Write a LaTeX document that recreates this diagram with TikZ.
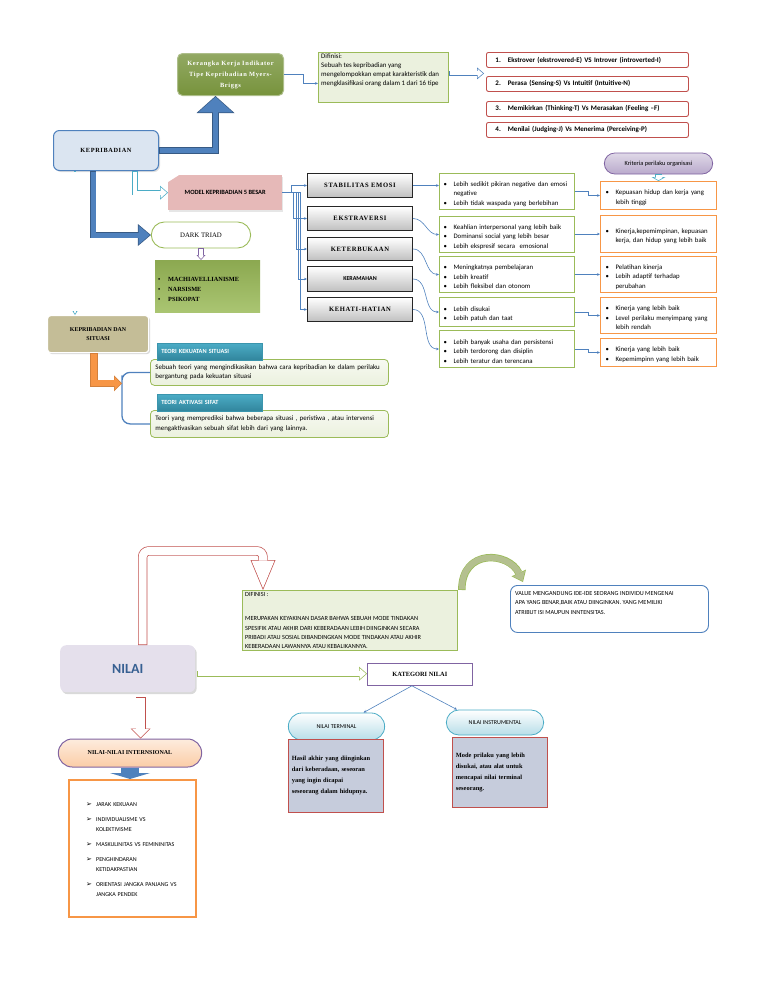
\documentclass[tikz,border=0pt]{standalone}
\usepackage{fontspec}
\setmainfont{Carlito}
\newfontfamily\serifface{Liberation Serif}
\newfontfamily\wideface[LetterSpace=10]{Liberation Serif}
\newfontfamily\symface{DejaVu Sans}
\usetikzlibrary{arrows.meta,positioning,shapes.misc,shadows,calc}

\definecolor{mossgreen}{HTML}{77933C}
\definecolor{leafgreen}{HTML}{9BBB59}
\definecolor{palegreen}{HTML}{EBF1DE}
\definecolor{brickred}{HTML}{C0504D}
\definecolor{steelblue}{HTML}{4F81BD}
\definecolor{iceblue}{HTML}{DBE5F1}
\definecolor{rosepink}{HTML}{E6B9B8}
\definecolor{tangerine}{HTML}{F79646}
\definecolor{khakitan}{HTML}{C4BD97}
\definecolor{deepteal}{HTML}{31859C}
\definecolor{aquablue}{HTML}{4BACC6}
\definecolor{lilac}{HTML}{8064A2}
\definecolor{lavender}{HTML}{E5E0EC}
\definecolor{slategrey}{HTML}{C6CCDC}
\definecolor{peach}{HTML}{FAC090}
\definecolor{navytext}{HTML}{376092}
\definecolor{sage}{HTML}{B4C08F}

% bullet lines with hanging indent
\newcommand{\bulitem}[1]{\par\hangindent=10pt\hangafter=1\noindent\makebox[10pt][l]{\textbullet}#1\par}
\newcommand{\arrowitem}[1]{\par\hangindent=10pt\hangafter=1\noindent\makebox[10pt][l]{{\symface\fontsize{7}{7}\selectfont ➢}}#1\par}

% hollow block arrow: [inner]{outline}{shaft}{head length}{head width}{path}
\newcommand{\hollowarrow}[6][white]{%
  \pgfmathsetmacro{\harrang}{atan((#5/2)/#4)}%
  \pgfmathsetmacro{\harroff}{0.7/sin(\harrang)}%
  \pgfmathsetmacro{\harrlen}{#4-0.7-\harroff}%
  \pgfmathsetmacro{\harrwid}{2*\harrlen*tan(\harrang)}%
  \pgfmathsetmacro{\harrout}{#3+1.4}%
  \draw[draw=#2, line width=\harrout pt,
    -{Triangle[length=#4pt, width=#5pt, line width=0pt, fill=#2]}] #6;%
  \draw[draw=#1, line width=#3pt, shorten <=0.7pt, shorten >=\harroff pt,
    -{Triangle[length=\harrlen pt, width=\harrwid pt, line width=0pt, fill=#1]}] #6;%
}

\tikzset{
  conn/.style={draw=steelblue, line width=0.6pt, -{Stealth[length=3pt,width=2.6pt]}},
  boxbase/.style={anchor=north west, inner sep=0pt},
  notetext/.style={anchor=north west, inner sep=0pt, align=left},
  kerangkabox/.style={boxbase, rounded corners=5pt, draw=mossgreen!60!white, line width=1pt,
    top color=mossgreen!80!white, bottom color=mossgreen, minimum width=106pt, minimum height=42pt,
    text=white, align=center, font=\wideface\bfseries\fontsize{6.4}{11}\selectfont},
  notebox/.style={boxbase, draw=leafgreen, line width=0.8pt, fill=palegreen},
  mbtibox/.style={boxbase, draw=brickred, line width=0.9pt, rounded corners=2pt, fill=white,
    minimum height=15pt, text width=184pt, inner xsep=9pt, align=left,
    font=\bfseries\fontsize{7}{8}\selectfont},
  kepbox/.style={boxbase, rounded corners=6pt, draw=steelblue, line width=1pt, fill=iceblue,
    minimum width=105pt, minimum height=40pt,
    drop shadow={opacity=0.25,shadow xshift=1.5pt,shadow yshift=-1.5pt},
    font=\wideface\bfseries\fontsize{6.3}{7}\selectfont},
  modelbox/.style={boxbase, fill=rosepink, minimum width=114pt, minimum height=35pt,
    drop shadow={opacity=0.2,shadow xshift=1pt,shadow yshift=-1.5pt},
    font=\bfseries\fontsize{6.4}{8}\selectfont},
  darkbox/.style={rounded rectangle, draw=leafgreen, line width=0.9pt, fill=white,
    minimum width=106pt, minimum height=26pt, font=\serifface\fontsize{6.8}{8}\selectfont},
  triadbox/.style={boxbase, top color=leafgreen!90!black, bottom color=leafgreen!85!white,
    minimum height=52pt, text width=99pt, inner xsep=3pt, align=left,
    font=\serifface\bfseries\fontsize{6.3}{10}\selectfont},
  greybox/.style={boxbase, draw=black!85, line width=1pt, top color=white, bottom color=black!25,
    minimum width=105pt, font=\wideface\bfseries\fontsize{6.6}{8}\selectfont},
  listbox/.style={boxbase, draw=leafgreen, line width=1pt, fill=white, text width=127pt,
    inner xsep=4pt, align=left, font=\fontsize{6.8}{9.5}\selectfont},
  critbox/.style={boxbase, draw=tangerine, line width=1pt, fill=white, text width=106pt,
    inner xsep=5pt, align=left, font=\fontsize{6.8}{9.5}\selectfont},
  kritbox/.style={rounded rectangle, draw=lilac, line width=0.8pt, top color=lilac!25,
    bottom color=lilac!55, minimum width=115pt, minimum height=21pt,
    font=\fontsize{6.3}{8}\selectfont},
  situbox/.style={boxbase, rounded corners=3pt, fill=khakitan, draw=white, line width=1.2pt,
    minimum width=101pt, minimum height=37pt, align=center,
    drop shadow={opacity=0.3,shadow xshift=1.5pt,shadow yshift=-1.5pt},
    font=\serifface\bfseries\fontsize{5.9}{9}\selectfont},
  teorihead/.style={boxbase, top color=aquablue, bottom color=deepteal, draw=deepteal!60!aquablue,
    line width=0.5pt, minimum height=17pt, text width=97pt, inner xsep=4pt, align=left,
    text=white, font=\bfseries\fontsize{6.3}{7}\selectfont},
  teoribox/.style={boxbase, rounded corners=4pt, draw=leafgreen, line width=0.8pt,
    top color=palegreen!40, bottom color=palegreen, text width=228pt, inner xsep=5pt,
    align=left, font=\fontsize{6.9}{9.5}\selectfont},
  nilaibox/.style={boxbase, rounded corners=6pt, fill=lavender, minimum width=135pt,
    minimum height=47pt, drop shadow={opacity=0.3,shadow xshift=1.5pt,shadow yshift=-2pt},
    text=navytext, font=\bfseries\fontsize{14}{16}\selectfont},
  valbox/.style={boxbase, rounded corners=7pt, draw=steelblue, line width=0.9pt, fill=white,
    minimum width=198pt, minimum height=47pt},
  katbox/.style={boxbase, draw=lilac, line width=0.8pt, fill=white, minimum width=105pt,
    minimum height=22pt, font=\serifface\bfseries\fontsize{6.4}{8}\selectfont},
  capsule/.style={rounded rectangle, draw=aquablue, line width=0.8pt, top color=white,
    bottom color=aquablue!40, font=\fontsize{6}{7}\selectfont},
  valuebox/.style={boxbase, draw=brickred, line width=0.8pt, fill=slategrey, text width=88pt,
    inner xsep=3.5pt, align=left, font=\serifface\bfseries\fontsize{6.4}{11}\selectfont},
  internbox/.style={rounded rectangle, draw=lilac, line width=1pt, top color=peach!30,
    bottom color=peach!80, minimum width=150pt, minimum height=28pt,
    font=\serifface\bfseries\fontsize{6}{7}\selectfont},
  orangebox/.style={boxbase, draw=tangerine, line width=2pt, fill=white,
    minimum width=127pt, minimum height=137pt},
}

\begin{document}
\begin{tikzpicture}[x=1pt,y=-1pt]
\useasboundingbox (0,0) rectangle (768,994);

% Myers-Briggs
\node[kerangkabox] (kerangka) at (177,53) {Kerangka Kerja Indikator\\Tipe Kepribadian Myers-\\Briggs};
\node[notebox, minimum width=130pt, minimum height=50pt] (difin) at (318,52) {};
\node[notetext, font=\fontsize{6.9}{9}\selectfont] (difintext) at (321,54)
  {Difinisi:\\Sebuah tes kepribadian yang\\mengelompokkan empat karakteristik dan\\mengklasifikasi orang dalam 1 dari 16 tipe};
\draw[conn] (kerangka.east) -- ++(19,0) |- ($(difin.west)+(0,6)$);

\foreach \n/\y/\txt in {1/52/{Ekstrover (ekstrovered-E) VS Introver (introverted-I)},
    2/76/{Perasa (Sensing-S) Vs Intuitif (Intuitive-N)},
    3/101/{Memikirkan (Thinking-T) Vs Merasakan (Feeling --F)},
    4/122/{Menilai (Judging-J) Vs Menerima (Perceiving-P)}}
  \node[mbtibox] (mbti\n) at (486,\y) {\n.\hspace{7pt}\txt};
\hollowarrow{steelblue}{4}{7}{12}{($(difin.east)+(0,-4)$) -- ($(mbti1.west |- difin.east)+(-2,-4)$)}

% Kepribadian
\node[kepbox] (kep) at (53,130) {KEPRIBADIAN};
\node[modelbox] (model) at (168,175) {MODEL KEPRIBADIAN 5 BESAR};
\fill[white] (model.north west) -- ++(11,0) -- ++(-11,7) -- cycle;
\node[darkbox] (dark) at (201,235) {DARK TRIAD};
\node[triadbox] (triad) at (155,260) {\bulitem{MACHIAVELLIANISME}\bulitem{NARSISME}\bulitem{PSIKOPAT}};
\node[situbox] (kds) at (47,315) {KEPRIBADIAN DAN\\SITUASI};

\hollowarrow[steelblue]{steelblue!70!black}{5}{17}{38}{(kep.east) -| ($(kerangka.south)+(-15,0)$)}
\hollowarrow[steelblue]{steelblue!70!black}{5}{13}{22}{($(kep.south west)+(40,0)$) |- (dark.west)}
\hollowarrow{aquablue}{4}{8}{14}{($(kep.south west)+(82,0)$) |- (model.west)}
\coordinate (kepdrop) at ($(kep.south west)+(22,0)$);
\hollowarrow{aquablue}{1.4}{4}{5}{(kepdrop) -- (kepdrop |- kds.north)}
\hollowarrow{lilac}{4}{5}{9}{(dark.south) -- (dark.south |- triad.north)}

% Big five
\node[greybox, minimum height=24pt] (s1) at (307,173) {STABILITAS EMOSI};
\node[greybox, minimum height=24pt] (s2) at (307,206) {EKSTRAVERSI};
\node[greybox, minimum height=23pt] (s3) at (307,237) {KETERBUKAAN};
\node[greybox, minimum height=25pt, font=\bfseries\fontsize{6}{7}\selectfont] (s4) at (307,266) {KERAMAHAN};
\node[greybox, minimum height=24pt] (s5) at (307,297) {KEHATI-HATIAN};
\foreach \b/\dx in {s1/9, s2/11, s3/14, s4/16, s5/18}
  \draw[conn] (model.east) -- ++(\dx,0) |- (\b.west);

\node[listbox, minimum height=36pt] (l1) at (439,173)
  {\bulitem{Lebih sedikit pikiran negative dan emosi\newline negative}\bulitem{Lebih tidak waspada yang berlebihan}};
\node[listbox, minimum height=36pt] (l2) at (439,216)
  {\bulitem{Keahlian interpersonal yang lebih baik}\bulitem{Dominansi social yang lebih besar}\bulitem{Lebih ekspresif secara\ \ emosional}};
\node[listbox, minimum height=36pt] (l3) at (439,256)
  {\bulitem{Meningkatnya pembelajaran}\bulitem{Lebih kreatif}\bulitem{Lebih fleksibel dan otonom}};
\node[listbox, minimum height=29pt] (l4) at (439,297)
  {\bulitem{Lebih disukai}\bulitem{Lebih patuh dan taat}};
\node[listbox, minimum height=37pt] (l5) at (439,330)
  {\bulitem{Lebih banyak usaha dan persistensi}\bulitem{Lebih terdorong dan disiplin}\bulitem{Lebih teratur dan terencana}};
\draw[conn] (s1.east) -- (s1.east -| l1.west);
\foreach \n in {2,...,5}
  \draw[conn] (s\n.east) to[out=0,in=180] (l\n.west);

% Kriteria perilaku organisasi
\node[kritbox] (krit) at (658.5,163.5) {Kriteria perilaku organisasi};
\node[critbox, minimum height=28pt] (o1) at (600,181)
  {\bulitem{Kepuasan hidup dan kerja yang\newline lebih tinggi}};
\node[critbox, minimum height=37pt] (o2) at (600,215)
  {\bulitem{Kinerja,kepemimpinan, kepuasan\newline kerja, dan hidup yang lebih baik}};
\node[critbox, minimum height=36pt] (o3) at (600,256)
  {\bulitem{Pelatihan kinerja}\bulitem{Lebih adaptif terhadap\newline perubahan}};
\node[critbox, minimum height=36pt] (o4) at (600,297)
  {\bulitem{Kinerja yang lebih baik}\bulitem{Level perilaku menyimpang yang\newline lebih rendah}};
\node[critbox, minimum height=28pt] (o5) at (600,338)
  {\bulitem{Kinerja yang lebih baik}\bulitem{Kepemimpinn yang lebih baik}};
\hollowarrow{aquablue}{6}{4}{14}{(krit.south) -- (krit.south |- o1.north)}
\foreach \n in {1,...,5}
  \draw[conn] (l\n.east) -- ++(13,0) |- (o\n.west);

% Kepribadian dan situasi
\node[teoribox, minimum height=26pt] (t1) at (150,359)
  {Sebuah teori yang mengindikasikan bahwa cara kepribadian ke dalam perilaku\\bergantung pada kekuatan situasi};
\node[teorihead] (h1) at (157,343) {TEORI KEKUATAN SITUASI};
\node[teoribox, minimum height=27pt] (t2) at (150,410)
  {Teori yang memprediksi bahwa beberapa situasi , peristiwa , atau intervensi\\mengaktivasikan sebuah sifat lebih dari yang lainnya.};
\node[teorihead] (h2) at (157,394) {TEORI AKTIVASI SIFAT};
\coordinate (brk) at ($(t1.west)+(-28,11)$);
\draw[steelblue, line width=1.3pt, rounded corners=8pt] (t1.west) -| (brk) |- (t2.west);
\hollowarrow[tangerine]{tangerine!85!black}{6}{8}{16}{($(kds.south)+(-4,0)$) |- (brk)}

% Nilai
\node[nilaibox] (nilai) at (60,645) {NILAI};
\node[notebox, minimum width=215pt, minimum height=60pt] (difn) at (242,590) {};
\node[notetext, font=\fontsize{6.3}{9.4}\selectfont] (difntext) at (245,592)
  {DIFINISI :\\[15pt]MERUPAKAN KEYAKINAN DASAR BAHWA SEBUAH MODE TINDAKAN\\SPESIFIK ATAU AKHIR DARI KEBERADAAN LEBIH DIINGINKAN SECARA\\PRIBADI ATAU SOSIAL DIBANDINGKAN MODE TINDAKAN ATAU AKHIR\\KEBERADAAN LAWANNYA ATAU KEBALIKANNYA.};
\node[valbox] (valbox) at (510,585) {};
\node[notetext, font=\fontsize{6.2}{9.5}\selectfont] (valtext) at (515,591)
  {VALUE MENGANDUNG IDE-IDE SEORANG INDIVIDU MENGENAI\\APA YANG BENAR,BAIK ATAU DIINGINKAN. YANG MEMILIKI\\ATRIBUT ISI MAUPUN INNTENSITAS.};
\hollowarrow{brickred}{8}{30}{25}{[rounded corners=6pt] ($(nilai.north)+(15,0)$) |- ($(difn.north west)+(21,-39)$) -- ($(difn.north west)+(21,0)$)}
\hollowarrow[sage]{leafgreen}{6}{10}{16}{($(difn.north east)+(4,0)$) .. controls +(0,-42) and +(-14,-30) .. ($(valbox.north west)+(13,-3)$)}

\node[katbox] (kat) at (367,663) {KATEGORI NILAI};
\coordinate (nilr) at ($(nilai.east)+(2,5)$);
\hollowarrow{leafgreen}{4.5}{8}{14}{(nilr) -- (nilr -| kat.west)}
\node[capsule, minimum width=103pt, minimum height=27pt] (term) at (336.5,726.5) {NILAI TERMINAL};
\node[capsule, minimum width=104pt, minimum height=25pt] (instr) at (495,722.5) {NILAI INSTRUMENTAL};
\draw[conn] ($(kat.south)+(-8,0)$) -- ($(term.north)+(27,0)$);
\draw[conn] ($(kat.south)+(-8,0)$) -- ($(instr.north)+(-38,0)$);
\node[valuebox, minimum height=73pt] (termtext) at (288,739)
  {Hasil akhir yang diinginkan\\dari keberadaan, seseoran\\yang ingin dicapai\\seseorang dalam hidupnya.};
\node[valuebox, minimum height=70pt] (instrtext) at (452,737)
  {Mode prilaku yang lebih\\disukai, atau alat untuk\\mencapai nilai terminal\\seseorang.};

% Nilai-nilai internsional
\node[internbox] (intern) at (130,753) {NILAI-NILAI INTERNSIONAL};
\coordinate (nildrop) at ($(nilai.south)+(13,5)$);
\hollowarrow{brickred}{9}{10}{20}{(nildrop) -- (nildrop |- intern.north)}
\node[orangebox] (ordbox) at (68,779) {};
\draw[steelblue, line width=18pt, -{Triangle[length=6pt,width=40pt,line width=0pt]}]
  (intern.south) -- (intern.south |- ordbox.north);
\node[notetext, text width=100pt, font=\fontsize{6}{10}\selectfont] (ordtext) at (86,791)
  {\setlength{\parskip}{5pt}%
   \arrowitem{JARAK KEKUAAN}\arrowitem{INDIVIDUALISME VS\newline KOLEKTIVISME}%
   \arrowitem{MASKULINITAS VS FEMININITAS}\arrowitem{PENGHINDARAN\newline KETIDAKPASTIAN}%
   \arrowitem{ORIENTASI JANGKA PANJANG VS\newline JANGKA PENDEK}};
\end{tikzpicture}
\end{document}
